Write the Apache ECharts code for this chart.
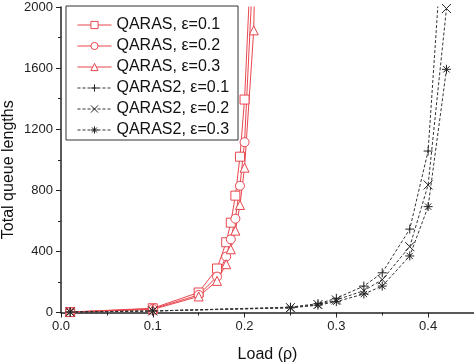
<!DOCTYPE html>
<html><head><meta charset="utf-8">
<script src="https://cdn.jsdelivr.net/npm/echarts@6/dist/echarts.min.js"></script>
<style>html,body{margin:0;padding:0;background:#fff}#c{width:474px;height:363px}</style>
</head><body><div id="c"></div>
<script>
// Data
const seriesNames = ['QARAS, ε=0.1','QARAS, ε=0.2','QARAS, ε=0.3','QARAS2, ε=0.1','QARAS2, ε=0.2','QARAS2, ε=0.3'];
const qaras01X = [0.01, 0.1, 0.15, 0.17, 0.18, 0.185, 0.19, 0.195, 0.2, 0.205];
const qaras01Y = [3, 28, 131, 288, 460, 588, 765, 1020, 1394, 2050];
const qaras02X = [0.01, 0.1, 0.15, 0.17, 0.18, 0.185, 0.19, 0.195, 0.2, 0.21];
const qaras02Y = [3, 24, 115, 235, 366, 479, 614, 830, 1115, 2350];
const qaras03X = [0.01, 0.1, 0.15, 0.17, 0.18, 0.185, 0.19, 0.195, 0.2, 0.21, 0.215];
const qaras03Y = [3, 20, 105, 207, 316, 414, 536, 704, 948, 1847, 3500];
const qaras2X = [0.01, 0.1, 0.25, 0.28, 0.3, 0.33, 0.35, 0.38, 0.4, 0.42];
const qaras2e01Y = [3, 10, 35, 58, 93, 173, 260, 546, 1057, 2840];
const qaras2e02Y = [3, 10, 32, 52, 82, 143, 215, 431, 835, 1990];
const qaras2e03Y = [3, 10, 30, 48, 71, 121, 173, 370, 693, 1592];
const xTicks = [0.0, 0.1, 0.2, 0.3, 0.4];
const yTicks = [0, 400, 800, 1200, 1600, 2000];

const RED = '#e8474f';
const BLACK = '#222';
const FONT = 'Liberation Sans, Arial, sans-serif';
const zip = (xs, ys) => xs.map((x, i) => [x, ys[i]]);

const plusPath = 'path://M5 0L5 10M0 5L10 5';
const crossPath = 'path://M0 0L10 10M10 0L0 10';
const starPath = 'path://M5 0L5 10M0 5L10 5M1.5 1.5L8.5 8.5M8.5 1.5L1.5 8.5';
const symbols = ['rect', 'circle', 'triangle', plusPath, crossPath, starPath];

function redSeries(i, xs, ys) {
  return {
    name: seriesNames[i], type: 'line', data: zip(xs, ys), symbol: symbols[i], symbolSize: 9,
    showAllSymbol: true, clip: true,
    lineStyle: { color: RED, width: 1 },
    itemStyle: { color: '#fff', borderColor: RED, borderWidth: 1 },
    emphasis: { disabled: true }, animation: false
  };
}
function blackSeries(i, ys) {
  return {
    name: seriesNames[i], type: 'line', data: zip(qaras2X, ys), symbol: symbols[i], symbolSize: 9,
    showAllSymbol: true, clip: true,
    lineStyle: { color: '#333', width: 1, type: [3, 2] },
    itemStyle: { color: 'none', borderColor: BLACK, borderWidth: 1 },
    emphasis: { disabled: true }, animation: false
  };
}

const legendData = seriesNames.map((n, i) => ({
  name: n,
  itemStyle: i < 3
    ? { color: '#fff', borderColor: RED, borderWidth: 1 }
    : { color: 'none', borderColor: BLACK, borderWidth: 1 },
  lineStyle: i < 3
    ? { color: RED, width: 1, type: 'solid' }
    : { color: '#333', width: 1, type: [3, 2] }
}));

const chart = echarts.init(document.getElementById('c'), null, { renderer: 'canvas' });
chart.setOption({
  animation: false,
  backgroundColor: '#fff',
  textStyle: { fontFamily: FONT },
  grid: { left: 61, right: 0, top: 7, bottom: 50.5, containLabel: false, outerBoundsMode: 'none' },
  legend: {
    orient: 'vertical', left: 66, top: 6,
    padding: [11, 9, 2, 11],
    borderColor: '#333', borderWidth: 1, backgroundColor: '#fff',
    itemWidth: 34, itemHeight: 9, itemGap: 5,
    textStyle: { fontSize: 16, color: '#111', fontFamily: FONT },
    data: legendData
  },
  xAxis: {
    type: 'value', min: 0, max: 0.45, interval: 0.1,
    name: 'Load (ρ)', nameLocation: 'middle', nameGap: 34,
    nameTextStyle: { fontSize: 16, color: '#111', fontFamily: FONT },
    axisLine: { onZero: false, lineStyle: { color: BLACK, width: 1.5 } },
    axisTick: { show: true, length: 5, lineStyle: { color: BLACK, width: 1 } },
    minorTick: { show: true, splitNumber: 2, length: 3, lineStyle: { color: BLACK } },
    splitLine: { show: false },
    axisLabel: {
      fontSize: 13, color: BLACK, margin: 7, showMaxLabel: false,
      formatter: v => xTicks.some(t => Math.abs(t - v) < 1e-9) ? v.toFixed(1) : ''
    }
  },
  yAxis: {
    type: 'value', min: 0, max: 2000, interval: 400,
    name: 'Total queue lengths', nameLocation: 'middle', nameGap: 44, nameRotate: 90,
    nameMoveOverlap: false,
    nameTextStyle: { fontSize: 16, color: '#111', fontFamily: FONT, padding: [0, 20, 0, 0] },
    axisLine: { show: true, lineStyle: { color: BLACK, width: 1.5 } },
    axisTick: { show: true, length: 5, lineStyle: { color: BLACK, width: 1 } },
    minorTick: { show: true, splitNumber: 2, length: 3, lineStyle: { color: BLACK } },
    splitLine: { show: false },
    axisLabel: {
      fontSize: 13, color: BLACK, margin: 8,
      formatter: v => yTicks.includes(v) ? String(v) : ''
    }
  },
  series: [
    redSeries(0, qaras01X, qaras01Y),
    redSeries(1, qaras02X, qaras02Y),
    redSeries(2, qaras03X, qaras03Y),
    blackSeries(3, qaras2e01Y),
    blackSeries(4, qaras2e02Y),
    blackSeries(5, qaras2e03Y)
  ]
});
</script></body></html>
